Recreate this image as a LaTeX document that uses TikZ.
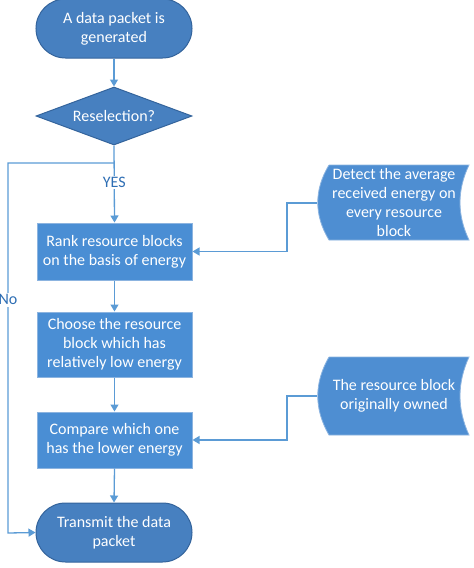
\documentclass[tikz,border=0pt]{standalone}
\usepackage{fontspec}
\setmainfont{Carlito}
\usetikzlibrary{shapes.geometric,arrows.meta}
\definecolor{termfill}{RGB}{71,128,192}
\definecolor{termline}{RGB}{52,100,156}
\definecolor{boxfill}{RGB}{74,142,212}
\definecolor{boxline}{RGB}{140,180,224}
\definecolor{dfill}{RGB}{78,142,210}
\definecolor{lnk}{RGB}{91,155,213}
\definecolor{lbl}{RGB}{46,110,180}
\tikzset{
  txt/.style={text=white,font=\fontsize{16}{19}\selectfont,align=center},
  term/.style={txt,draw=termline,fill=termfill,line width=1pt,rounded corners=29.5pt,minimum width=156pt,minimum height=59pt,inner sep=0pt},
  dec/.style={txt,diamond,aspect=2.7,draw=termline,fill=termfill,line width=1pt,minimum width=156pt,minimum height=58pt,inner sep=0pt},
  proc/.style={txt,draw=boxline,fill=boxfill,line width=1pt,minimum width=155pt,inner sep=0pt},
  link/.style={draw=lnk,line width=1.3pt},
  arr/.style={link,-{Triangle[length=7pt,width=8pt]}},
  lab/.style={text=lbl,font=\fontsize{16}{18}\selectfont,fill=white,inner sep=1.5pt},
  dshape/.style={draw=boxline,fill=dfill,line width=0.8pt}
}
\begin{document}
\begin{tikzpicture}[x=1pt,y=-1pt]
\useasboundingbox (0,0) rectangle (474,568);
% terminals and steps
\node[term] (start) at (114,28.5) {A data packet is\\generated};
\node[dec] (resel) at (114,116) {Reselection?};
\node[proc,minimum height=57pt] (rank) at (114.5,251.5) {Rank resource blocks\\on the basis of energy};
\node[proc,minimum height=65pt] (choose) at (114.5,344.5) {Choose the resource\\block which has\\relatively low energy};
\node[proc,minimum height=56pt] (compare) at (114.5,440) {Compare which one\\has the lower energy};
\node[term] (transmit) at (114,532.5) {Transmit the data\\packet};
% stored data shapes
\path[dshape] (329,165) -- (469,165) .. controls (457,190) and (457,215) .. (469,240) -- (329,240) .. controls (314,215) and (314,190) .. (329,165);
\node[txt] (detect) at (394,202.5) {Detect the average\\received energy on\\every resource\\block};
\coordinate (detectw) at (317,203);
\path[dshape] (329,357) -- (469,357) .. controls (457,383) and (457,409) .. (469,435) -- (329,435) .. controls (314,409) and (314,383) .. (329,357);
\node[txt] (owned) at (394,396) {The resource block\\originally owned};
\coordinate (ownedw) at (317,396);
% connectors
\draw[arr] (start.south) -- (resel.north);
\draw[arr] (resel.south) -- node[lab,pos=0.48]{YES} (rank.north);
\coordinate (split) at (114.5,163);
\coordinate (nc1) at (8,163);
\coordinate (nc2) at (8,533);
\draw[arr] (split) -- (nc1) -- node[lab,pos=0.37,inner xsep=0.5pt]{No} (nc2) -- (transmit.west);
\draw[arr] (rank.south) -- (choose.north);
\draw[arr] (choose.south) -- (compare.north);
\draw[arr] (compare.south) -- (transmit.north);
\coordinate (k1) at (287,203);
\coordinate (k2) at (287,251.5);
\draw[arr] (detectw) -- (k1) -- (k2) -- (rank.east);
\coordinate (k3) at (287,396);
\coordinate (k4) at (287,440);
\draw[arr] (ownedw) -- (k3) -- (k4) -- (compare.east);
\end{tikzpicture}
\end{document}
